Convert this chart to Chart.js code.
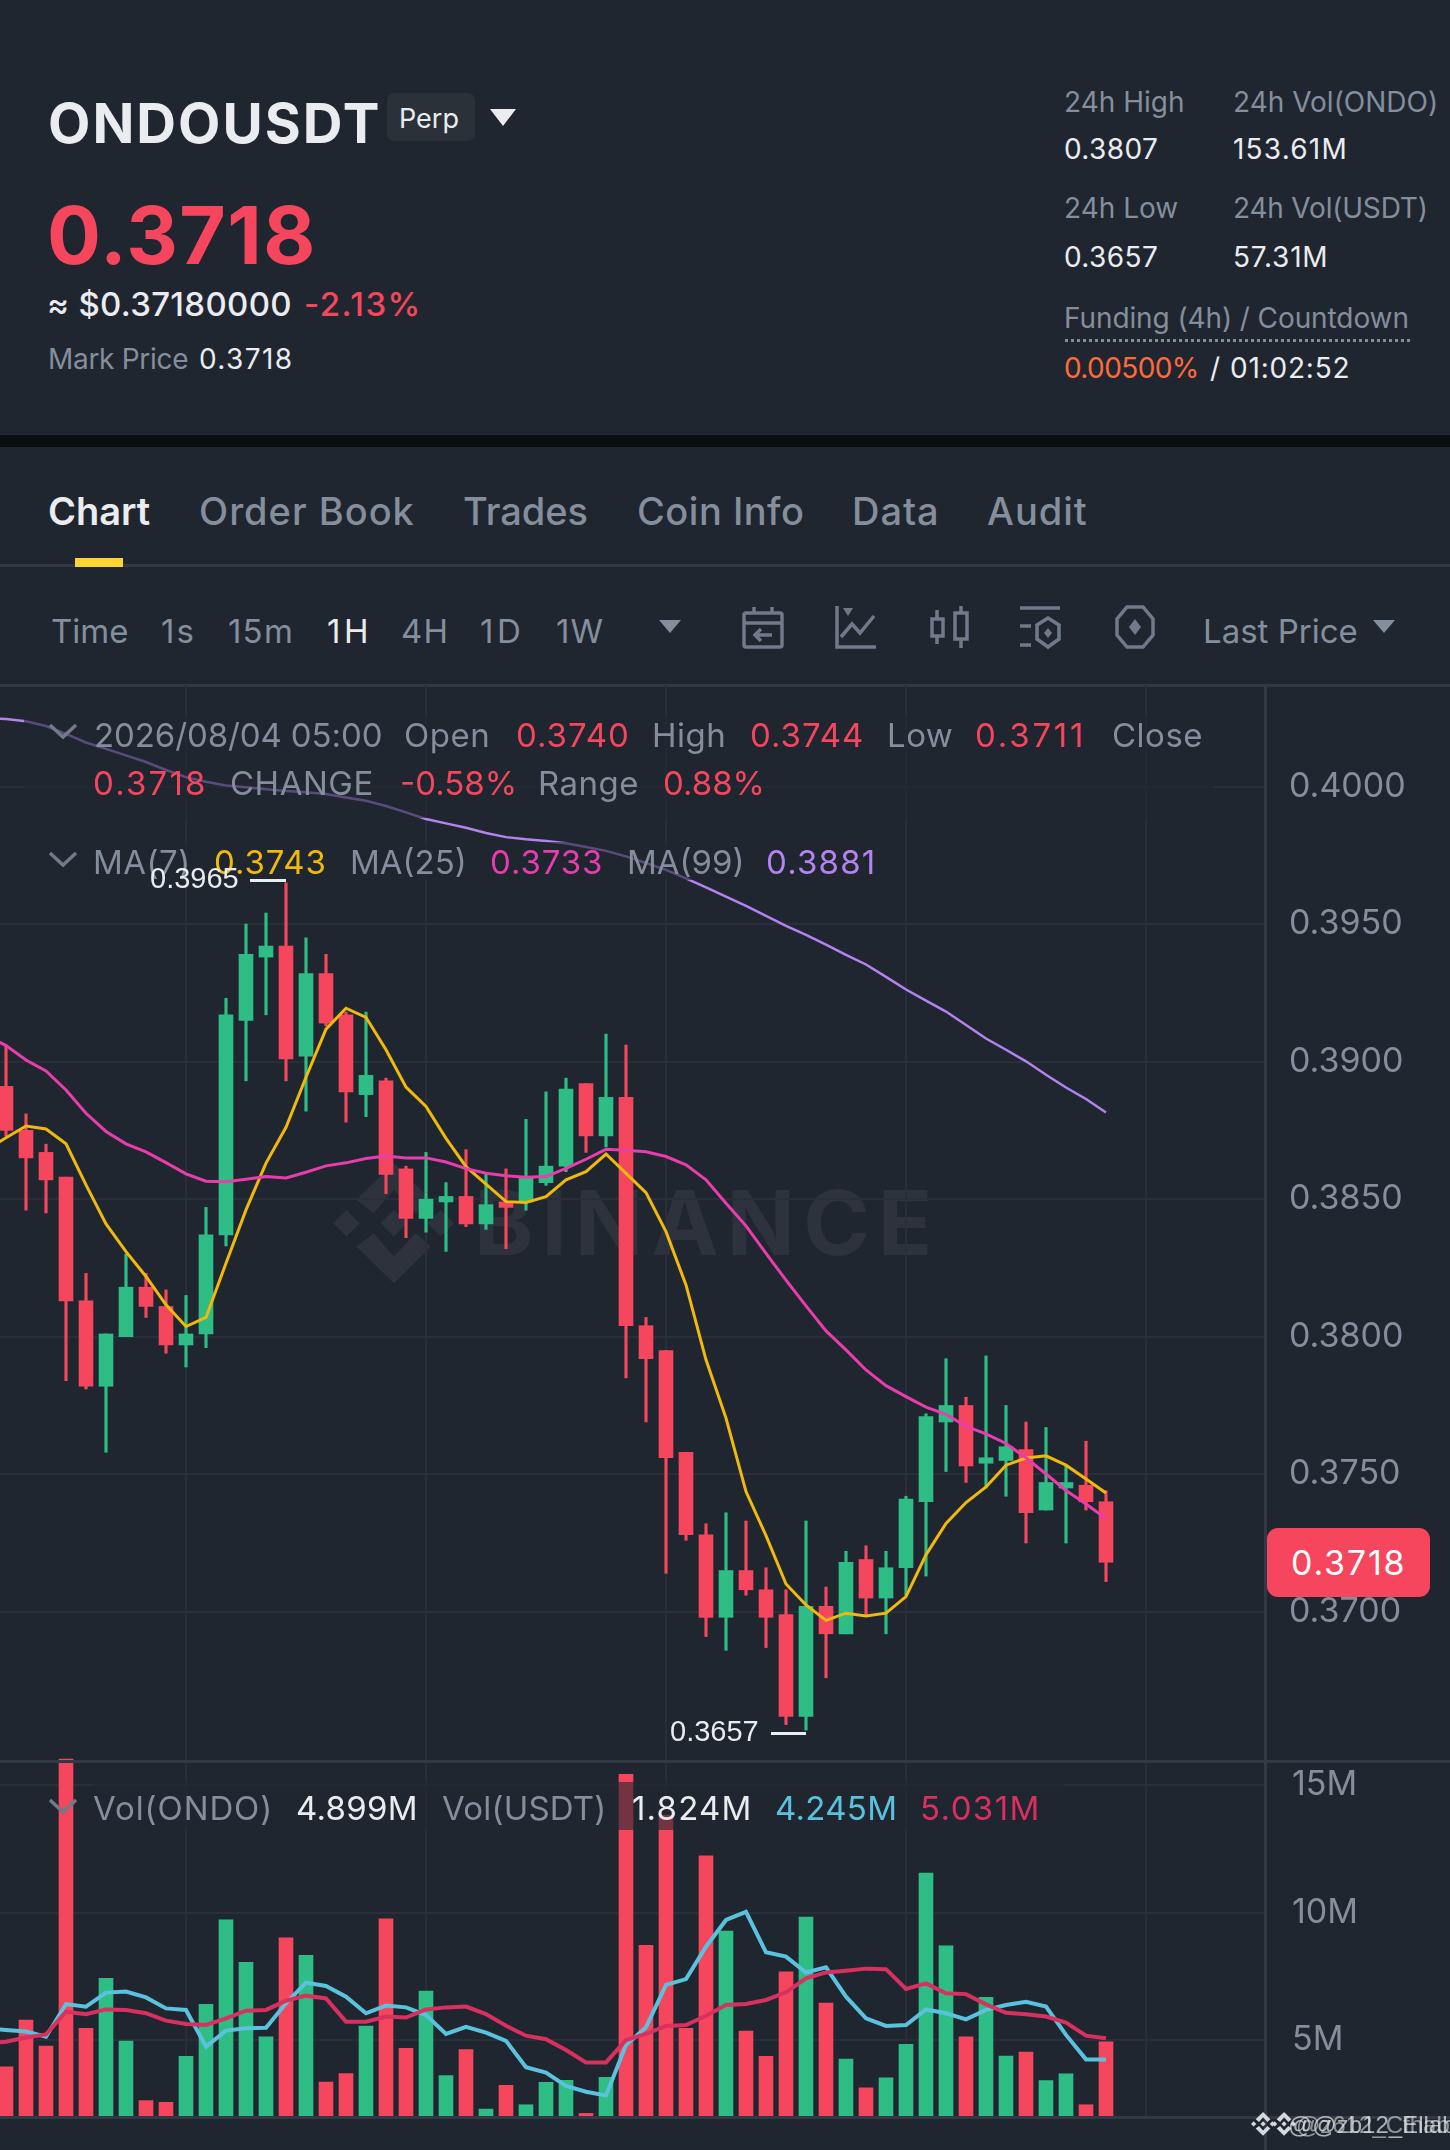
<!DOCTYPE html>
<html>
<head>
<meta charset="UTF-8">
<title>ONDOUSDT Perp</title>
<style>
    html, body { margin: 0; padding: 0; background: #1f2630; }
    body { position: relative; width: 1450px; height: 2150px; overflow: hidden; font-family: Inter, "Noto Sans", sans-serif; color: #848E9C; }
    .t { position: absolute; white-space: nowrap; line-height: 1; font-size: 28px; }
    .w { color: #EAECEF; }
    .r { color: #F6465D; }
    .tab { font-size: 38px; font-weight: 500; top: 492px; }
    .tool { font-size: 33px; top: 615px; letter-spacing: 1.2px; }
    .leg { font-size: 33px; letter-spacing: .5px; }
    .hl { font-family: "Liberation Sans", Arial, sans-serif; font-size: 29px; color: #EAECEF; }
    .line { position: absolute; background: #323945; }
    .tri { position: absolute; width: 0; height: 0; border-style: solid; border-color: transparent; border-bottom-width: 0; }
    .veil { position: absolute; background: rgba(31, 38, 48, 0.6); }
    canvas { position: absolute; left: 0; }
    svg { position: absolute; }
</style>
</head>
<body>
    <svg width="0" height="0">
        <symbol id="logo" viewBox="98 490 362 362">
            <polygon points="138,630 178,670 138,710 98,670"/>
            <polygon points="280,630 320,670 280,710 240,670"/>
            <polygon points="420,630 460,670 420,710 380,670"/>
            <polygon points="168,600 280,490 390,600 345,640 280,570 220,640"/>
            <polygon points="168,740 280,850 390,740 345,700 280,770 220,700"/>
        </symbol>
    </svg>

    <!-- header -->
    <div class="t w" style="left:48px;top:96px;font-size:55px;font-weight:700;letter-spacing:2px">ONDOUSDT</div>
    <div style="position:absolute;left:387px;top:93px;width:88px;height:48px;background:#2B3139;border-radius:7px"></div>
    <div class="t w" style="left:399px;top:105px;font-size:27px">Perp</div>
    <div class="tri" style="left:490px;top:109px;border-width:17px 13px 0;border-top-color:#EAECEF"></div>
    <div class="t r" style="left:47px;top:195px;font-size:80px;font-weight:700;letter-spacing:1.4px">0.3718</div>
    <div class="t w" style="left:47px;top:288px;font-size:33px;font-weight:500;letter-spacing:.3px">≈ $0.37180000</div>
    <div class="t r" style="left:304px;top:288px;font-size:33px;font-weight:500;letter-spacing:1.5px">-2.13%</div>
    <div class="t" style="left:48px;top:345px;letter-spacing:-.3px">Mark Price</div>
    <div class="t w" style="left:199px;top:345px;letter-spacing:1.4px">0.3718</div>

    <div class="t" style="left:1064px;top:88px">24h High</div>
    <div class="t" style="left:1233px;top:88px">24h Vol(ONDO)</div>
    <div class="t w" style="left:1064px;top:135px;letter-spacing:.4px">0.3807</div>
    <div class="t w" style="left:1233px;top:135px;letter-spacing:1.2px">153.61M</div>
    <div class="t" style="left:1064px;top:194px">24h Low</div>
    <div class="t" style="left:1233px;top:194px;letter-spacing:-.2px">24h Vol(USDT)</div>
    <div class="t w" style="left:1064px;top:243px;letter-spacing:.4px">0.3657</div>
    <div class="t w" style="left:1233px;top:243px;letter-spacing:.8px">57.31M</div>
    <div class="t" style="left:1064px;top:304px;letter-spacing:-.1px">Funding (4h) / Countdown</div>
    <div style="position:absolute;left:1065px;top:339px;width:345px;border-top:3px dotted #848E9C"></div>
    <div class="t" style="left:1064px;top:354px;color:#FF6A3D;letter-spacing:-.6px">0.00500%</div>
    <div class="t w" style="left:1210px;top:354px">/</div>
    <div class="t w" style="left:1230px;top:354px;letter-spacing:.8px">01:02:52</div>

    <div style="position:absolute;left:0;top:435px;width:1450px;height:12px;background:#0B0E11"></div>

    <!-- tabs -->
    <div class="t w tab" style="left:48px;font-weight:600">Chart</div>
    <div class="t tab" style="left:199px;letter-spacing:1px">Order Book</div>
    <div class="t tab" style="left:463px">Trades</div>
    <div class="t tab" style="left:637px;letter-spacing:.5px">Coin Info</div>
    <div class="t tab" style="left:852px;letter-spacing:1px">Data</div>
    <div class="t tab" style="left:987px;letter-spacing:1px">Audit</div>
    <div class="line" style="left:0;top:564px;width:1450px;height:3px"></div>
    <div style="position:absolute;left:75px;top:558px;width:48px;height:9px;background:#FCD535"></div>

    <!-- toolbar -->
    <div class="t tool" style="left:51px;letter-spacing:0">Time</div>
    <div class="t tool" style="left:161px;letter-spacing:2px">1s</div>
    <div class="t tool" style="left:228px">15m</div>
    <div class="t w tool" style="left:327px;letter-spacing:3.5px">1H</div>
    <div class="t tool" style="left:401px">4H</div>
    <div class="t tool" style="left:480px;letter-spacing:3.5px">1D</div>
    <div class="t tool" style="left:556px">1W</div>
    <div class="tri" style="left:659px;top:620px;border-width:13px 11px 0;border-top-color:#848E9C"></div>
    <svg style="left:740px;top:604px" width="46" height="46" viewBox="0 0 46 46" fill="none" stroke="#707A8A" stroke-width="3.5">
        <rect x="4" y="9" width="38" height="34" rx="2"/><path d="M4 19H42M14 3V9M32 3V9M32 31H15M21 25L15 31L21 37"/>
    </svg>
    <svg style="left:833px;top:604px" width="46" height="46" viewBox="0 0 46 46" fill="none" stroke="#707A8A" stroke-width="3.5">
        <path d="M4 2V43H43M8 33L19 20L27 29L41 12"/><path d="M10 4H20L15 12Z" fill="#707A8A" stroke="none"/>
    </svg>
    <svg style="left:929px;top:604px" width="42" height="46" viewBox="0 0 42 46" fill="none" stroke="#707A8A" stroke-width="3.5">
        <rect x="3" y="15" width="11" height="17"/><rect x="26" y="9" width="12" height="26"/><path d="M8 6V15M8 32V40M32 2V9M32 35V44"/>
    </svg>
    <svg style="left:1018px;top:604px" width="46" height="46" viewBox="0 0 46 46" fill="none" stroke="#707A8A" stroke-width="3.5">
        <path d="M2 4H42M2 22H13M2 41H13"/><path d="M30 14L41 21V35L30 43L19 35V21Z"/><path d="M30 24L34 29L30 34L26 29Z" fill="#707A8A" stroke="none"/>
    </svg>
    <svg style="left:1115px;top:604px" width="40" height="46" viewBox="0 0 40 46" fill="none" stroke="#707A8A" stroke-width="3.5">
        <path d="M12 3H28L38 15V31L28 43H12L2 31V15Z"/><path d="M20 15L26 23L20 31L14 23Z" fill="#707A8A" stroke="none"/>
    </svg>
    <div class="t tool" style="left:1203px;letter-spacing:0">Last Price</div>
    <div class="tri" style="left:1373px;top:620px;border-width:13px 11px 0;border-top-color:#848E9C"></div>
    <div class="line" style="left:0;top:684px;width:1450px;height:3px"></div>

    <!-- watermark sits under the chart -->
    <svg style="left:333px;top:1163px;fill:#2D323D" width="121" height="121"><use href="#logo"/></svg>
    <div class="t" style="left:474px;top:1178px;font-size:90px;font-weight:700;letter-spacing:8px;color:#2D323D">BINANCE</div>

    <canvas id="priceChart" width="1450" height="1077" style="top:685px"></canvas>
    <canvas id="volumeChart" width="1450" height="362" style="top:1755px"></canvas>

    <div class="line" style="left:1264px;top:686px;width:3px;height:1464px"></div>
    <div class="line" style="left:0;top:1760px;width:1450px;height:3px"></div>
    <div class="line" style="left:0;top:2116px;width:1450px;height:3px"></div>

    <!-- legends -->
    <div class="veil" style="left:24px;top:716px;width:1190px;height:102px"></div>
    <div class="veil" style="left:24px;top:842px;width:860px;height:38px"></div>
    <div class="veil" style="left:92px;top:1782px;width:973px;height:48px"></div>

    <svg style="left:48px;top:722px" width="30" height="18" fill="none" stroke="#707A8A" stroke-width="3.5"><path d="M2 3L15 15L28 3"/></svg>
    <div class="t leg" style="left:94px;top:719px;letter-spacing:-.1px">2026/08/04 05:00</div>
    <div class="t leg" style="left:404px;top:719px">Open</div>
    <div class="t leg r" style="left:516px;top:719px;letter-spacing:1px">0.3740</div>
    <div class="t leg" style="left:652px;top:719px">High</div>
    <div class="t leg r" style="left:750px;top:719px;letter-spacing:1px">0.3744</div>
    <div class="t leg" style="left:887px;top:719px">Low</div>
    <div class="t leg r" style="left:975px;top:719px;letter-spacing:2.8px">0.3711</div>
    <div class="t leg" style="left:1112px;top:719px">Close</div>
    <div class="t leg r" style="left:93px;top:767px;letter-spacing:2.2px">0.3718</div>
    <div class="t leg" style="left:230px;top:767px">CHANGE</div>
    <div class="t leg r" style="left:400px;top:767px;letter-spacing:0">-0.58%</div>
    <div class="t leg" style="left:538px;top:767px">Range</div>
    <div class="t leg r" style="left:663px;top:767px;letter-spacing:0">0.88%</div>

    <svg style="left:48px;top:850px" width="30" height="18" fill="none" stroke="#707A8A" stroke-width="3.5"><path d="M2 3L15 15L28 3"/></svg>
    <div class="t leg" style="left:93px;top:846px">MA(7)</div>
    <div class="t leg" style="left:214px;top:846px;color:#F0B90B;letter-spacing:.9px">0.3743</div>
    <div class="t leg" style="left:350px;top:846px;letter-spacing:0">MA(25)</div>
    <div class="t leg" style="left:490px;top:846px;color:#E93CAD;letter-spacing:.9px">0.3733</div>
    <div class="t leg" style="left:627px;top:846px;letter-spacing:0">MA(99)</div>
    <div class="t leg" style="left:766px;top:846px;color:#B583F0;letter-spacing:1.2px">0.3881</div>

    <svg style="left:48px;top:1797px" width="30" height="18" fill="none" stroke="#707A8A" stroke-width="3.5"><path d="M2 3L15 15L28 3"/></svg>
    <div class="t leg" style="left:93px;top:1792px;letter-spacing:.9px">Vol(ONDO)</div>
    <div class="t leg w" style="left:296px;top:1792px;letter-spacing:.3px">4.899M</div>
    <div class="t leg" style="left:442px;top:1792px;letter-spacing:.2px">Vol(USDT)</div>
    <div class="t leg w" style="left:632px;top:1792px;letter-spacing:1.2px">1.824M</div>
    <div class="t leg" style="left:775px;top:1792px;color:#5AC2DC;letter-spacing:.3px">4.245M</div>
    <div class="t leg" style="left:920px;top:1792px;color:#D8305F;letter-spacing:1.4px">5.031M</div>

    <!-- high / low marks -->
    <div class="t hl" style="left:150px;top:864px">0.3965</div>
    <div style="position:absolute;left:250px;top:879px;width:36px;height:3px;background:#EAECEF"></div>
    <div class="t hl" style="left:670px;top:1717px">0.3657</div>
    <div style="position:absolute;left:771px;top:1732px;width:35px;height:3px;background:#EAECEF"></div>

    <div style="position:absolute;left:1267px;top:1528px;width:163px;height:69px;background:#F6465D;border-radius:11px"></div>
    <div class="t" style="left:1291px;top:1546px;font-size:34px;color:#fff;letter-spacing:1.8px">0.3718</div>

    <!-- bottom right stamp -->
    <svg style="left:1251px;top:2111px;fill:#D5D8DC" width="24" height="26"><use href="#logo"/></svg>
    <svg style="left:1272px;top:2111px;fill:#D5D8DC" width="24" height="26"><use href="#logo"/></svg>
    <div class="t" style="left:1288px;top:2113px;font-size:24px;font-family:'Liberation Sans',sans-serif;color:rgba(234,236,239,.7)">@@zb12_Ellabs</div>
    <div class="t" style="left:1296px;top:2113px;font-size:24px;font-family:'Liberation Sans',sans-serif;color:rgba(234,236,239,.55)">@z612_Cfhabs</div>

    <script src="https://cdn.jsdelivr.net/npm/chart.js@4/dist/chart.umd.js"></script>
    <script>
        const opens = [.3891,.3875,.3867,.3858,.3813,.3782,.3800,.3818,.3811,.3797,.3801,.3837,.3915,.3938,.3942,.3902,.3932,.3917,.3888,.3893,.3861,.3843,.3849,.3851,.3841,.3849,.3849,.3856,.3862,.3892,.3873,.3887,.3804,.3795,.3758,.3728,.3698,.3715,.3708,.3699,.3662,.3702,.3692,.3719,.3705,.3716,.3740,.3769,.3775,.3754,.3755,.3759,.3737,.3745,.3746,.3740];
        const closes = [.3875,.3865,.3857,.3813,.3782,.3801,.3818,.3811,.3797,.3801,.3837,.3917,.3939,.3942,.3901,.3932,.3914,.3889,.3895,.3859,.3843,.3850,.3851,.3841,.3848,.3847,.3858,.3862,.3890,.3873,.3887,.3804,.3792,.3756,.3728,.3698,.3715,.3708,.3698,.3662,.3702,.3692,.3718,.3705,.3716,.3741,.3771,.3775,.3753,.3756,.3760,.3736,.3747,.3747,.3740,.3718];
        const highs = [.3906,.3881,.3870,.3858,.3823,.3801,.3830,.3823,.3817,.3815,.3847,.3923,.3950,.3954,.3965,.3945,.3939,.3918,.3918,.3894,.3862,.3867,.3856,.3868,.3859,.3861,.3879,.3889,.3894,.3892,.3910,.3906,.3807,.3795,.3758,.3732,.3736,.3733,.3716,.3708,.3733,.3709,.3722,.3724,.3722,.3742,.3772,.3792,.3778,.3793,.3775,.3769,.3767,.3753,.3762,.3744];
        const lows = [.3873,.3846,.3845,.3784,.3781,.3758,.3800,.3807,.3794,.3789,.3796,.3833,.3893,.3917,.3893,.3882,.3913,.3878,.3880,.3852,.3836,.3838,.3831,.3840,.3839,.3832,.3846,.3855,.3860,.3867,.3869,.3785,.3769,.3714,.3726,.3691,.3686,.3706,.3687,.3659,.3657,.3676,.3692,.3699,.3692,.3706,.3713,.3751,.3747,.3745,.3742,.3725,.3737,.3725,.3737,.3711];
        const volumes = [3.95,5.78,4.76,16.02,5.46,7.42,4.96,2.62,2.56,4.36,6.40,9.71,8.05,5.12,9.01,8.32,3.35,3.68,5.55,9.75,4.67,6.92,3.60,4.62,2.29,3.22,2.46,3.34,3.42,2.12,3.54,15.42,8.71,13.82,5.46,12.22,9.27,5.35,4.36,7.67,9.82,6.45,4.25,3.12,3.52,4.83,11.55,8.69,5.12,6.67,4.37,4.53,3.41,3.67,2.46,4.93];

        // moving averages start one candle before the first visible one
        const ma7 = [.38679,.38723,.38766,.38755,.38701,.38552,.38410,.38309,.38219,.38116,.38037,.38070,.38267,.38461,.38631,.38761,.38943,.39118,.39194,.39161,.39043,.38907,.38837,.38721,.38618,.38555,.38491,.38488,.38509,.38570,.38600,.38664,.38594,.38524,.38382,.38188,.37916,.37704,.37437,.37277,.37101,.37025,.36969,.36995,.36985,.36995,.37055,.37207,.37321,.37397,.37454,.37533,.37559,.37567,.37533,.37483,.37432];
        const ma25 = [.39097,.39058,.39006,.38966,.38897,.38812,.38746,.38701,.38672,.38633,.38592,.38565,.38563,.38572,.38582,.38577,.38598,.38621,.38632,.38648,.38657,.38650,.38650,.38635,.38611,.38594,.38585,.38580,.38582,.38612,.38645,.38681,.38678,.38672,.38655,.38625,.38570,.38485,.38403,.38303,.38206,.38112,.38021,.37952,.37879,.37822,.37782,.37744,.37718,.37674,.37647,.37612,.37560,.37501,.37441,.37392,.37339];
        const ma99 = [.40250,.40245,.40237,.40220,.40191,.40160,.40137,.40113,.40089,.40060,.40034,.40017,.40004,.39997,.39990,.39984,.39979,.39973,.39960,.39948,.39929,.39906,.39882,.39866,.39850,.39831,.39816,.39808,.39802,.39794,.39780,.39766,.39746,.39722,.39697,.39666,.39633,.39600,.39566,.39530,.39493,.39461,.39425,.39388,.39353,.39308,.39262,.39222,.39182,.39133,.39084,.39043,.39001,.38952,.38906,.38864,.38815];
        const volMaShort = [5.46,5.39,5.33,5.13,6.41,6.31,6.86,6.90,6.67,6.24,6.18,4.74,5.37,5.46,5.48,6.44,7.25,7.12,6.70,6.05,6.35,6.28,5.98,5.24,5.52,5.29,4.97,3.93,3.72,3.20,2.97,2.82,4.80,5.50,7.16,7.39,8.66,9.71,10.03,8.44,8.27,7.65,7.85,6.70,5.85,5.55,5.59,6.20,6.05,5.81,6.18,6.37,6.50,6.31,5.20,4.24,4.24];
        const volMaLong = [4.87,4.93,5.10,5.22,6.11,6.01,6.20,6.18,6.05,5.76,5.63,5.59,5.85,6.15,6.18,6.54,6.74,6.63,5.72,5.72,5.92,5.88,6.20,6.28,6.31,6.02,5.56,5.17,5.03,4.61,4.12,4.12,5.00,5.24,5.55,5.59,5.95,6.37,6.41,6.57,6.87,7.42,7.65,7.72,7.80,7.78,7.00,7.22,6.83,6.80,6.40,6.07,6.01,5.92,5.68,5.17,5.07];

        const priceTicks = [.3700,.3750,.3800,.3850,.3900,.3950,.4000];
        const volumeTicks = [5,10,15];
        const timeGridLines = [9,21,33,45,57];

        const UP = "#2EBD85";
        const DOWN = "#F6465D";
        const GRID = "#292F3A";
        const TICK_TEXT = "#848E9C";

        const candleColors = opens.map((o,i)=> closes[i] >= o ? UP : DOWN);
        const maPoints = arr => arr.map((v,i)=>({x:i-1, y:v}));

        function lineSet(values, color, width){
            return {
                type:"line",
                data:maPoints(values),
                borderColor:color,
                borderWidth:width,
                pointRadius:0,
                tension:0,
                fill:false,
                order:0
            };
        }

        function paneOptions(yMin, yMax, ticks, format, padding){
            return {
                responsive:false,
                animation:false,
                events:[],
                devicePixelRatio:1,
                layout:{autoPadding:false,padding:0},
                plugins:{legend:{display:false},tooltip:{enabled:false}},
                datasets:{bar:{grouped:false}},
                scales:{
                    x:{
                        type:"linear",
                        offset:false,
                        min:-0.3,
                        max:62.95,
                        afterBuildTicks:s=>{ s.ticks = timeGridLines.map(v=>({value:v})); },
                        ticks:{display:false},
                        grid:{color:GRID,lineWidth:2,drawTicks:false,offset:false},
                        border:{display:false}
                    },
                    y:{
                        position:"right",
                        min:yMin,
                        max:yMax,
                        // tick padding otherwise eats into the plot height
                        afterFit:s=>{ s.width = 185; s.paddingTop = 0; s.paddingBottom = 0; },
                        afterBuildTicks:s=>{ s.ticks = ticks.map(v=>({value:v})); },
                        ticks:{
                            color:TICK_TEXT,
                            padding:padding,
                            font:{family:"Inter",size:34},
                            callback:format
                        },
                        grid:{color:GRID,lineWidth:2,drawTicks:false},
                        border:{display:false}
                    }
                }
            };
        }

        new Chart(document.getElementById("priceChart"), {
            type:"bar",
            data:{
                datasets:[
                    lineSet(ma99,"#B583F0",2.5),
                    lineSet(ma25,"#E93CAD",3),
                    lineSet(ma7,"#F0B90B",3),
                    {
                        data:opens.map((o,i)=>({x:i, y:[o,closes[i]]})),
                        backgroundColor:candleColors,
                        barThickness:14,
                        order:1
                    },
                    {
                        data:highs.map((h,i)=>({x:i, y:[lows[i],h]})),
                        backgroundColor:candleColors,
                        barThickness:2.5,
                        order:2
                    }
                ]
            },
            options:paneOptions(.36454,.40369,priceTicks,v=>v.toFixed(4),24)
        });

        new Chart(document.getElementById("volumeChart"), {
            type:"bar",
            data:{
                datasets:[
                    lineSet(volMaLong,"#D8305F",4),
                    lineSet(volMaShort,"#5AC2DC",4),
                    {
                        data:volumes.map((v,i)=>({x:i, y:v})),
                        backgroundColor:candleColors,
                        barThickness:14,
                        order:1
                    }
                ]
            },
            options:paneOptions(1.98,16.18,volumeTicks,v=>v+"M",27)
        });
    </script>
</body>
</html>
